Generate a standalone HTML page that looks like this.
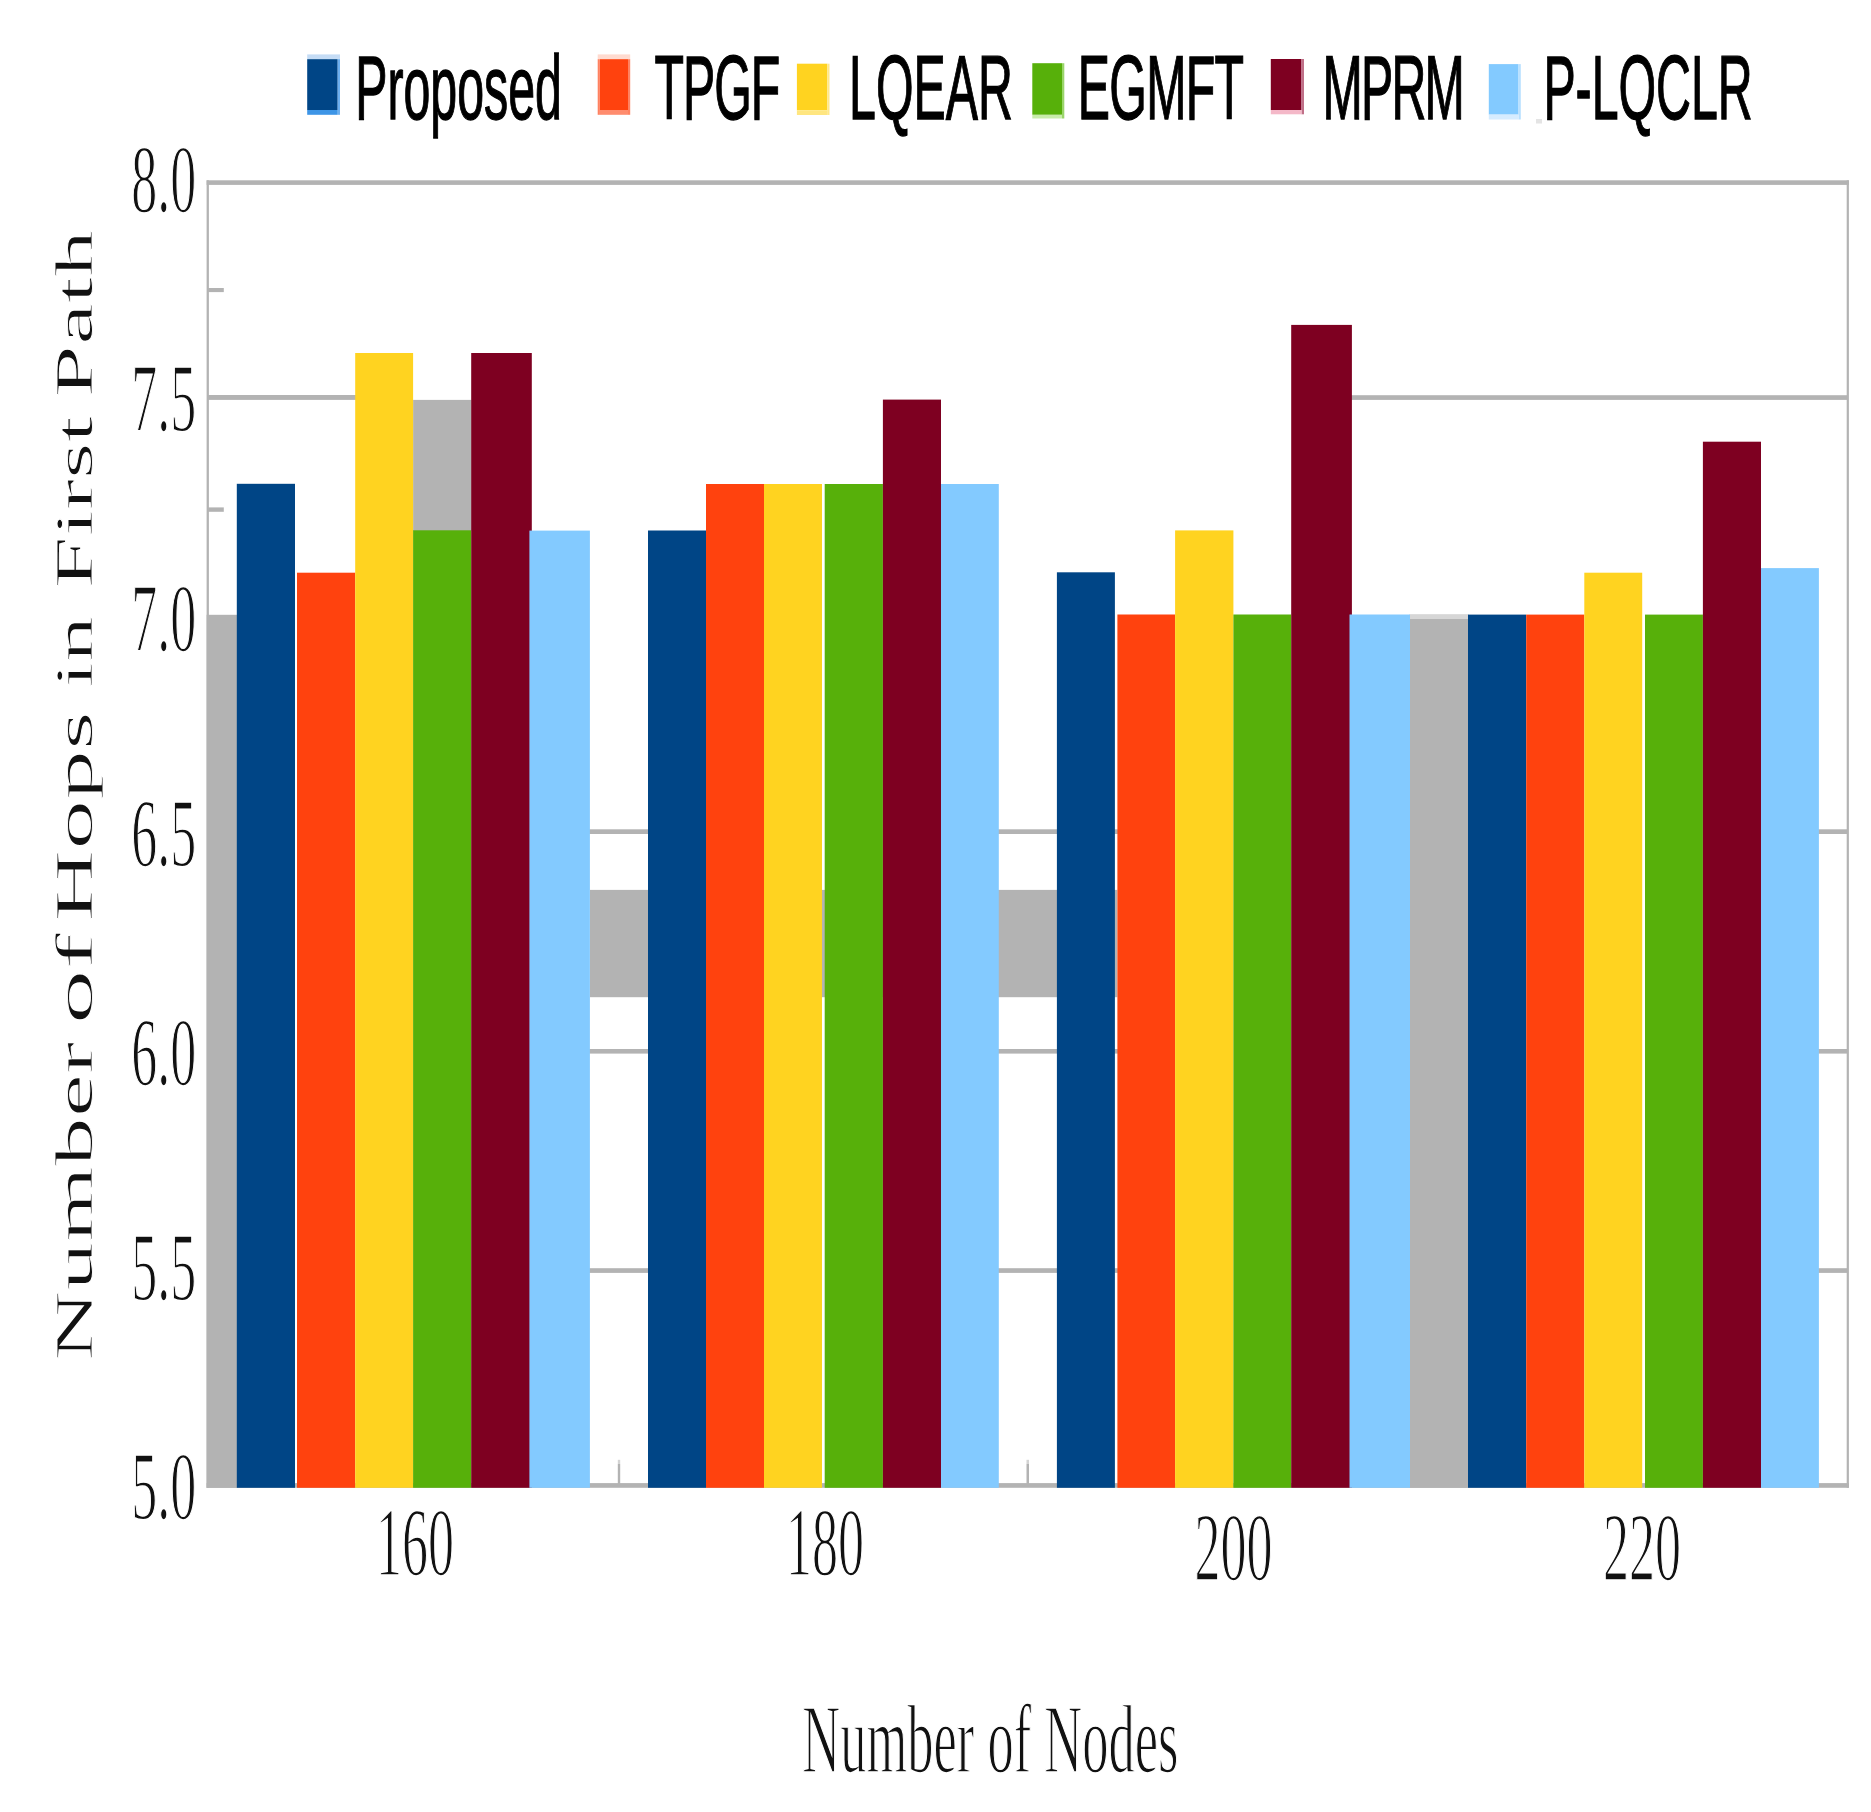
<!DOCTYPE html>
<html lang="en">
<head>
<meta charset="utf-8">
<title>Number of Hops in First Path</title>
<style>
html,body{margin:0;padding:0;background:#fff;}
body{width:1871px;height:1812px;overflow:hidden;}
svg{display:block;}
.sans{font-family:"Liberation Sans",Arial,sans-serif;}
.serif{font-family:"Liberation Serif","Times New Roman",serif;}
</style>
</head>
<body>
<svg width="1871" height="1812" viewBox="0 0 1871 1812">
<rect x="0" y="0" width="1871" height="1812" fill="#ffffff"/>

<g id="grid" fill="#b3b3b3">
<rect x="208.0" y="395.0" width="148.0" height="4.9" fill="#b3b3b3"/>
<rect x="1351.0" y="395.2" width="497.0" height="4.7" fill="#b3b3b3"/>
<rect x="589.0" y="829.3" width="60.0" height="4.7" fill="#b3b3b3"/>
<rect x="998.0" y="829.3" width="120.0" height="4.7" fill="#b3b3b3"/>
<rect x="1818.0" y="829.3" width="30.0" height="4.7" fill="#b3b3b3"/>
<rect x="589.0" y="1049.0" width="60.0" height="4.6" fill="#b3b3b3"/>
<rect x="998.0" y="1049.0" width="120.0" height="4.6" fill="#b3b3b3"/>
<rect x="1818.0" y="1049.0" width="30.0" height="4.6" fill="#b3b3b3"/>
<rect x="589.0" y="1268.2" width="60.0" height="4.7" fill="#b3b3b3"/>
<rect x="998.0" y="1268.2" width="120.0" height="4.7" fill="#b3b3b3"/>
<rect x="1818.0" y="1268.2" width="30.0" height="4.7" fill="#b3b3b3"/>
<rect x="208.0" y="288.0" width="15.8" height="4.1" fill="#b3b3b3"/>
<rect x="208.0" y="507.4" width="15.8" height="4.4" fill="#b3b3b3"/>
<rect x="617.8" y="1464.0" width="2.4" height="20.0" fill="#b3b3b3"/>
<rect x="617.8" y="1459.8" width="2.4" height="4.2" fill="#d4d4d4"/>
<rect x="1026.5" y="1464.0" width="2.5" height="20.0" fill="#b3b3b3"/>
<rect x="1026.5" y="1459.8" width="2.5" height="4.2" fill="#d4d4d4"/>
</g>
<g id="frame">
<rect x="206.6" y="180.3" width="1642.3" height="4.6" fill="#b3b3b3"/>
<rect x="206.6" y="1483.1" width="1642.3" height="4.7" fill="#b3b3b3"/>
<rect x="206.6" y="180.3" width="2.3" height="1307.5" fill="#b3b3b3"/>
<rect x="1846.7" y="180.3" width="2.2" height="1307.5" fill="#b3b3b3"/>
</g>
<g id="blocks">
<rect x="206.6" y="614.8" width="30.9" height="873.0" fill="#b3b3b3"/>
<rect x="413.1" y="399.9" width="58.4" height="131.1" fill="#b3b3b3"/>
<rect x="589.9" y="889.9" width="527.5" height="107.3" fill="#b3b3b3"/>
<rect x="1409.5" y="614.6" width="59.0" height="873.2" fill="#b3b3b3"/>
<rect x="1409.5" y="614.6" width="59.0" height="4.4" fill="#d6d6d6"/>
</g>
<g id="bars">
<rect x="236.8" y="483.8" width="58.2" height="1004.0" fill="#004586"/>
<rect x="297.0" y="572.7" width="58.2" height="915.1" fill="#ff420e"/>
<rect x="355.2" y="353.0" width="57.9" height="1134.8" fill="#ffd320"/>
<rect x="413.1" y="530.3" width="58.1" height="957.5" fill="#57b00a"/>
<rect x="471.2" y="353.0" width="60.6" height="1134.8" fill="#7e0021"/>
<rect x="529.4" y="530.6" width="60.5" height="957.2" fill="#83caff"/>
<rect x="648.0" y="530.5" width="58.0" height="957.3" fill="#004586"/>
<rect x="706.0" y="484.0" width="58.0" height="1003.8" fill="#ff420e"/>
<rect x="764.0" y="484.0" width="58.0" height="1003.8" fill="#ffd320"/>
<rect x="824.7" y="484.0" width="58.2" height="1003.8" fill="#57b00a"/>
<rect x="882.9" y="399.6" width="58.1" height="1088.2" fill="#7e0021"/>
<rect x="941.0" y="484.0" width="57.8" height="1003.8" fill="#83caff"/>
<rect x="1056.9" y="572.3" width="58.0" height="915.5" fill="#004586"/>
<rect x="1117.4" y="614.5" width="57.7" height="873.3" fill="#ff420e"/>
<rect x="1175.1" y="530.4" width="58.3" height="957.4" fill="#ffd320"/>
<rect x="1233.4" y="614.5" width="57.8" height="873.3" fill="#57b00a"/>
<rect x="1291.2" y="324.9" width="60.7" height="1162.9" fill="#7e0021"/>
<rect x="1349.5" y="614.5" width="60.5" height="873.3" fill="#83caff"/>
<rect x="1468.0" y="614.6" width="58.2" height="873.2" fill="#004586"/>
<rect x="1526.2" y="614.6" width="58.1" height="873.2" fill="#ff420e"/>
<rect x="1584.3" y="572.7" width="57.9" height="915.1" fill="#ffd320"/>
<rect x="1645.0" y="614.6" width="57.9" height="873.2" fill="#57b00a"/>
<rect x="1702.9" y="441.7" width="58.1" height="1046.1" fill="#7e0021"/>
<rect x="1761.0" y="568.1" width="57.9" height="919.7" fill="#83caff"/>
</g>
<g id="legend" class="sans" font-size="48.3" fill="#000" stroke="#000" stroke-width="0.7" stroke-linejoin="miter">
<g stroke="none">
<rect x="307.2" y="59.1" width="30.5" height="50.9" fill="#004586"/>
<rect x="337.7" y="59.1" width="2.3" height="55.7" fill="#6db0f0"/>
<rect x="307.2" y="54.4" width="32.8" height="4.7" fill="#c5dcf5"/>
<rect x="307.2" y="110.0" width="30.5" height="4.8" fill="#3d95e6"/>
</g>
<text transform="translate(355.2,118.9) scale(1,1.87)" x="0" y="0">Proposed</text>
<g stroke="none">
<rect x="599.9" y="59.1" width="28.1" height="50.9" fill="#ff420e"/>
<rect x="597.7" y="59.1" width="2.2" height="55.7" fill="#ff8261"/>
<rect x="628.0" y="59.1" width="2.2" height="55.7" fill="#ff8261"/>
<rect x="597.7" y="54.4" width="32.5" height="4.7" fill="#ffdbd0"/>
<rect x="599.9" y="110.0" width="28.1" height="4.8" fill="#ff8c6e"/>
</g>
<text transform="translate(654.5,118.9) scale(1,1.87)" x="0" y="0" letter-spacing="-1.0">TPGF</text>
<g stroke="none">
<rect x="796.9" y="63.7" width="30.3" height="46.5" fill="#ffd320"/>
<rect x="827.2" y="63.7" width="2.3" height="51.3" fill="#ffe88a"/>
<rect x="796.9" y="110.2" width="30.3" height="4.8" fill="#ffe680"/>
</g>
<text transform="translate(849.1,118.9) scale(1,1.87)" x="0" y="0">LQEAR</text>
<g stroke="none">
<rect x="1032.3" y="63.2" width="29.7" height="51.6" fill="#57b00a"/>
<rect x="1062.0" y="63.2" width="2.3" height="55.3" fill="#9ad56a"/>
<rect x="1032.3" y="114.8" width="29.7" height="3.7" fill="#c8ecaa"/>
</g>
<text transform="translate(1077.8,118.9) scale(1,1.87)" x="0" y="0" letter-spacing="-0.7">EGMFT</text>
<g stroke="none">
<rect x="1270.8" y="59.0" width="30.7" height="51.0" fill="#7e0021"/>
<rect x="1301.5" y="59.0" width="2.5" height="55.3" fill="#c07088"/>
<rect x="1270.8" y="110.0" width="30.7" height="4.3" fill="#f4b8c8"/>
</g>
<text transform="translate(1322.6,118.9) scale(1,1.87)" x="0" y="0" letter-spacing="-1.77">MPRM</text>
<g stroke="none">
<rect x="1488.8" y="64.1" width="29.7" height="50.5" fill="#83caff"/>
<rect x="1518.5" y="64.1" width="2.3" height="55.4" fill="#b8e0ff"/>
<rect x="1488.8" y="114.6" width="29.7" height="4.9" fill="#d6ecff"/>
</g>
<text transform="translate(1543.4,118.9) scale(1,1.87)" x="0" y="0">P-LQCLR</text>
</g>
<rect x="1536.0" y="119.0" width="6.0" height="4.5" fill="#e4e4e4"/>
<g id="yticks" class="serif" font-size="52" fill="#111" stroke="#fff" stroke-width="0.9" text-anchor="end">
<text transform="translate(196.2,211.7) scale(1,1.88)" x="0" y="0">8.0</text>
<text transform="translate(196.2,431.4) scale(1,1.88)" x="0" y="0">7.5</text>
<text transform="translate(196.2,651.1) scale(1,1.88)" x="0" y="0">7.0</text>
<text transform="translate(196.2,865.8) scale(1,1.88)" x="0" y="0">6.5</text>
<text transform="translate(196.2,1085.1) scale(1,1.88)" x="0" y="0">6.0</text>
<text transform="translate(196.2,1299.9) scale(1,1.88)" x="0" y="0">5.5</text>
<text transform="translate(196.2,1519.2) scale(1,1.88)" x="0" y="0">5.0</text>
</g>
<g id="xticks" class="serif" font-size="52" fill="#111" stroke="#fff" stroke-width="0.9" text-anchor="middle">
<text transform="translate(415.0,1575.4) scale(1,1.88)" x="0" y="0">160</text>
<text transform="translate(825.1,1575.4) scale(1,1.88)" x="0" y="0">180</text>
<text transform="translate(1233.4,1579.7) scale(1,1.88)" x="0" y="0">200</text>
<text transform="translate(1642.1,1579.7) scale(1,1.88)" x="0" y="0">220</text>
</g>
<g id="titles" class="serif" fill="#111" stroke="#fff" stroke-width="0.9">
<text font-size="52.5" text-anchor="middle" transform="translate(990.4,1772) scale(1,1.845)" x="0" y="0">Number of Nodes</text>
<g id="ytitle" font-size="52" text-anchor="middle">
<text transform="translate(92.0,1201.3) scale(1,1.876) rotate(-90)" x="0" y="0">Number</text>
<text transform="translate(92.0,978.6) scale(1,2.12) rotate(-90)" x="0" y="0">of</text>
<text transform="translate(92.0,816.4) scale(1,1.919) rotate(-90)" x="0" y="0">Hops</text>
<text transform="translate(92.0,651.9) scale(1,1.768) rotate(-90)" x="0" y="0">in</text>
<text transform="translate(92.0,502.4) scale(1,1.808) rotate(-90)" x="0" y="0">First</text>
<text transform="translate(92.0,313.7) scale(1,1.811) rotate(-90)" x="0" y="0">Path</text>
</g>
</g>
</svg>
</body>
</html>
